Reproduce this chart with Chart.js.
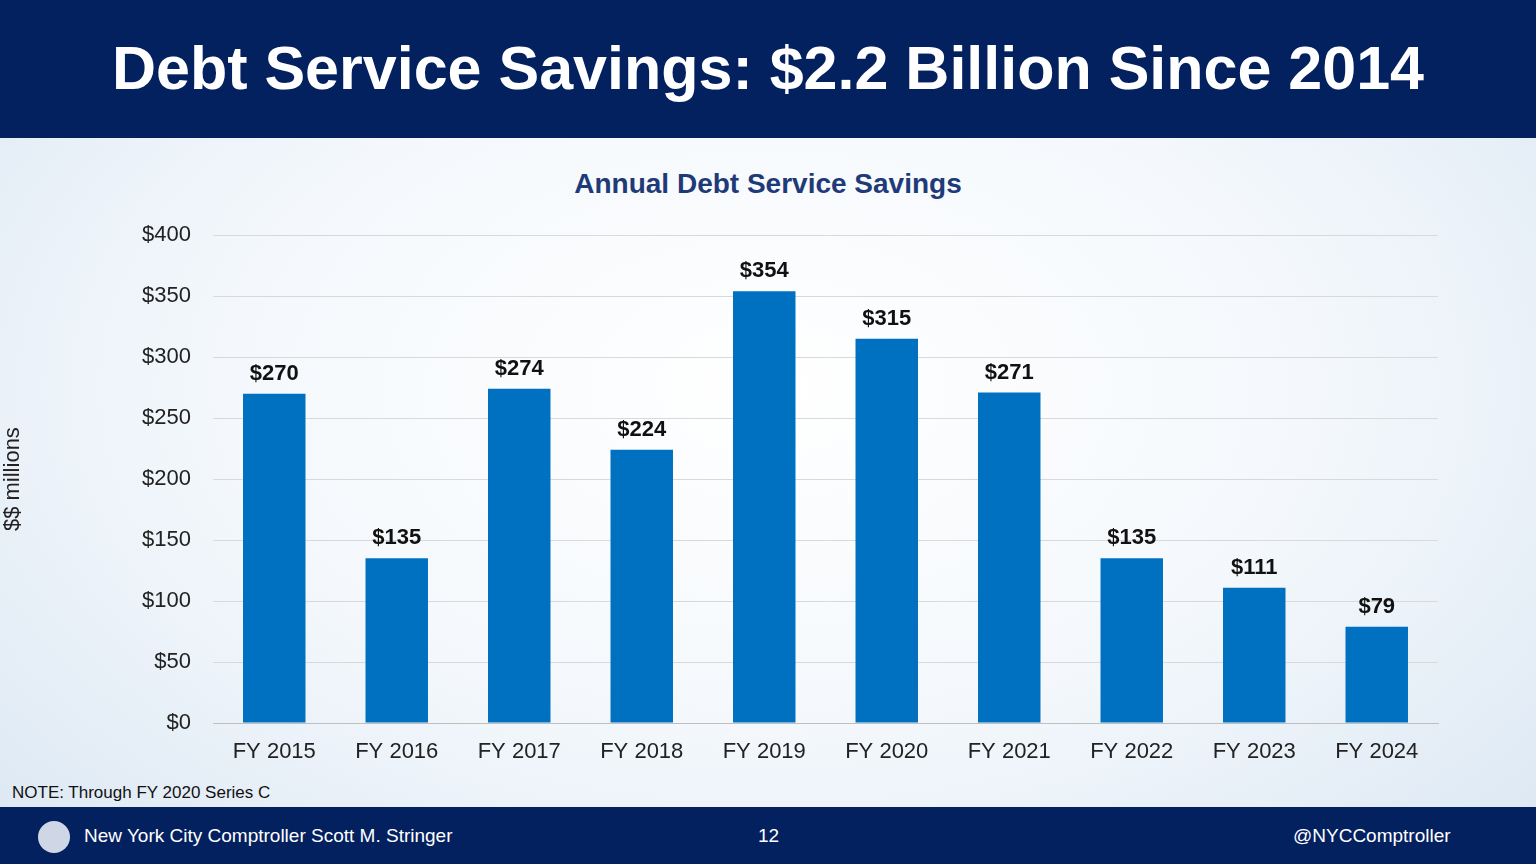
<!DOCTYPE html>
<html><head><meta charset="utf-8">
<script src="https://cdn.jsdelivr.net/npm/chart.js@4"></script>
<style>
  body { margin: 0; width: 1536px; height: 864px; overflow: hidden; font-family: 'Liberation Sans', Arial, sans-serif;
    background: radial-gradient(ellipse at 50% 45%, #ffffff 0%, #f4f8fc 50%, #dbe7f3 100%); position: relative; }
  .hdr { position: absolute; left: 0; top: 0; width: 1536px; height: 138px; background: #03205f; color: #fff;
    font-weight: bold; font-size: 61px; text-align: center; line-height: 136px; }
  .ct { position: absolute; top: 168px; width: 1536px; text-align: center; color: #1f3a78; font-weight: bold; font-size: 28px; }
  .note { position: absolute; left: 12px; top: 783px; font-size: 17px; color: #111; }
  .ftr { position: absolute; left: 0; top: 807px; width: 1536px; height: 57px; background: #03205f; color: #fff; font-size: 19px; }
  .ftr span { position: absolute; top: 18px; }
  #wrap { position: absolute; left: 0; top: 200px; width: 1536px; height: 580px; }
</style></head>
<body>
<div class="hdr">Debt Service Savings: $2.2 Billion Since 2014</div>
<div class="ct">Annual Debt Service Savings</div>
<div id="wrap"><canvas id="c"></canvas></div>
<div class="note">NOTE: Through FY 2020 Series C</div>
<div class="ftr">
  <span style="left:38px;top:14px;width:32px;height:32px;border-radius:50%;background:#cfd6e6;"></span>
  <span style="left:84px">New York City Comptroller Scott M. Stringer</span>
  <span style="left:758px">12</span>
  <span style="left:1293px">@NYCComptroller</span>
</div>
<script>
const years = ['FY 2015','FY 2016','FY 2017','FY 2018','FY 2019','FY 2020','FY 2021','FY 2022','FY 2023','FY 2024'];
const savings = [270, 135, 274, 224, 354, 315, 271, 135, 111, 79];

const valueLabels = {
  id: 'valueLabels',
  afterDatasetsDraw(chart) {
    const ctx = chart.ctx;
    ctx.save();
    ctx.font = 'bold 22px "Liberation Sans", Arial';
    ctx.fillStyle = '#111';
    ctx.textAlign = 'center';
    ctx.textBaseline = 'bottom';
    chart.getDatasetMeta(0).data.forEach((b, i) => ctx.fillText('$' + savings[i], b.x, b.y - 9));
    ctx.restore();
  }
};

new Chart(document.getElementById('c'), {
  type: 'bar',
  data: { labels: years, datasets: [{ data: savings, backgroundColor: '#0070c0', categoryPercentage: 1, barPercentage: 0.51 }] },
  options: {
    responsive: true, maintainAspectRatio: false, animation: false,
    layout: { padding: { top: 27, right: 98, left: 0, bottom: 0 } },
    plugins: { legend: { display: false }, tooltip: { enabled: false } },
    scales: {
      x: {
        grid: { display: false }, border: { color: '#bfbfbf' },
        ticks: { color: '#222', font: { size: 22, family: '"Liberation Sans", Arial' }, padding: 8 },
        afterFit(s) { s.height = 57; }
      },
      y: {
        min: 0, max: 400,
        border: { display: false },
        grid: { color: '#d9d9d9', drawTicks: false },
        ticks: { stepSize: 50, color: '#222', padding: 22, font: { size: 22, family: '"Liberation Sans", Arial' }, callback: v => '$' + v },
        title: { display: true, text: '$$ millions', color: '#222', font: { size: 22, family: '"Liberation Sans", Arial' }, padding: 0 },
        afterFit(s) { s.width = 213; }
      }
    }
  },
  plugins: [valueLabels]
});
</script>
</body></html>
